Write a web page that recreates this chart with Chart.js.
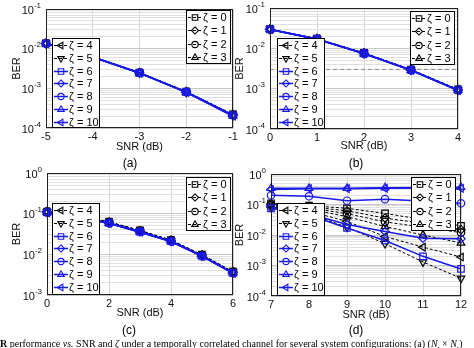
<!DOCTYPE html>
<html><head><meta charset="utf-8">
<script src="https://cdn.jsdelivr.net/npm/chart.js@4.4.1/dist/chart.umd.min.js"></script>
<style>
html,body{margin:0;padding:0;background:#fff}
body{width:474px;height:348px;overflow:hidden;position:relative;font-family:'Liberation Sans',Arial,sans-serif;color:#000}
canvas{position:absolute}
.lab{position:absolute;font-size:12px;transform:translate(-50%,-50%);white-space:nowrap}
#cap{position:absolute;left:0;top:338px;white-space:nowrap;font-family:'Liberation Serif','Times New Roman',serif;font-size:10px;line-height:12px}
</style></head><body>
<canvas id="ca" width="240" height="160" style="left:0;top:0"></canvas>
<canvas id="cb" width="241" height="160" style="left:233px;top:0"></canvas>
<canvas id="cc" width="240" height="160" style="left:0;top:165px"></canvas>
<canvas id="cd" width="241" height="160" style="left:233px;top:165px"></canvas>
<div class="lab" style="left:130px;top:163px">(a)</div>
<div class="lab" style="left:356px;top:163px">(b)</div>
<div class="lab" style="left:129px;top:330px">(c)</div>
<div class="lab" style="left:356px;top:330px">(d)</div>
<div id="cap"><b>R</b> performance <i>vs.</i> SNR and <i>ζ</i> under a temporally correlated channel for several system configurations: (a) (<i>N</i><sub style="font-size:7px">t</sub> × <i>N</i><sub style="font-size:7px">r</sub>)</div>
<script>
// ---------------- data ----------------
const zetas = [0, 1, 2, 3, 4, 5, 6, 7, 8, 9, 10];

const snrA = [-5, -4, -3, -2, -1];
const berA = [
  [1.37e-2, 6.30e-3, 2.50e-3, 8.3e-4, 2.20e-4],
  [1.36e-2, 6.25e-3, 2.48e-3, 8.2e-4, 2.17e-4],
  [1.36e-2, 6.20e-3, 2.47e-3, 8.2e-4, 2.15e-4],
  [1.35e-2, 6.20e-3, 2.46e-3, 8.1e-4, 2.12e-4],
  [1.35e-2, 6.15e-3, 2.45e-3, 8.1e-4, 2.10e-4],
  [1.34e-2, 6.10e-3, 2.44e-3, 8.0e-4, 2.05e-4],
  [1.35e-2, 6.20e-3, 2.45e-3, 8.1e-4, 2.12e-4],
  [1.34e-2, 6.15e-3, 2.44e-3, 8.0e-4, 2.08e-4],
  [1.35e-2, 6.20e-3, 2.46e-3, 8.1e-4, 2.10e-4],
  [1.34e-2, 6.10e-3, 2.43e-3, 7.9e-4, 2.02e-4],
  [1.33e-2, 6.10e-3, 2.42e-3, 7.9e-4, 1.98e-4]
];

const snrB = [0, 1, 2, 3, 4];
const berB = [
  [3.00e-2, 1.74e-2, 7.7e-3, 2.98e-3, 9.6e-4],
  [2.98e-2, 1.73e-2, 7.6e-3, 2.95e-3, 9.5e-4],
  [2.97e-2, 1.72e-2, 7.6e-3, 2.94e-3, 9.4e-4],
  [2.96e-2, 1.71e-2, 7.5e-3, 2.92e-3, 9.4e-4],
  [2.96e-2, 1.71e-2, 7.5e-3, 2.91e-3, 9.3e-4],
  [2.95e-2, 1.70e-2, 7.5e-3, 2.90e-3, 9.3e-4],
  [2.95e-2, 1.70e-2, 7.5e-3, 2.90e-3, 9.3e-4],
  [2.95e-2, 1.70e-2, 7.4e-3, 2.89e-3, 9.2e-4],
  [2.94e-2, 1.69e-2, 7.4e-3, 2.88e-3, 9.2e-4],
  [2.94e-2, 1.69e-2, 7.4e-3, 2.87e-3, 9.1e-4],
  [2.93e-2, 1.68e-2, 7.3e-3, 2.86e-3, 9.0e-4]
];
const refB = [3.0e-3, 3.0e-3, 3.0e-3, 3.0e-3, 3.0e-3];

const snrC = [0, 1, 2, 3, 4, 5, 6];
const berC = [
  [0.113, 0.087, 0.063, 0.039, 0.0225, 9.8e-3, 3.75e-3],
  [0.112, 0.086, 0.062, 0.038, 0.0222, 9.6e-3, 3.70e-3],
  [0.112, 0.086, 0.062, 0.038, 0.0220, 9.6e-3, 3.70e-3],
  [0.111, 0.085, 0.061, 0.037, 0.0218, 9.5e-3, 3.65e-3],
  [0.111, 0.085, 0.061, 0.037, 0.0216, 9.4e-3, 3.60e-3],
  [0.110, 0.084, 0.060, 0.037, 0.0215, 9.3e-3, 3.60e-3],
  [0.108, 0.083, 0.059, 0.036, 0.0210, 9.1e-3, 3.50e-3],
  [0.108, 0.083, 0.059, 0.036, 0.0210, 9.1e-3, 3.50e-3],
  [0.107, 0.082, 0.058, 0.036, 0.0208, 9.0e-3, 3.45e-3],
  [0.107, 0.082, 0.058, 0.035, 0.0206, 9.0e-3, 3.45e-3],
  [0.106, 0.081, 0.058, 0.035, 0.0205, 8.9e-3, 3.40e-3]
];

const snrD = [7, 8, 9, 10, 11, 12];
const berD = [
  [0.110, 0.092, 0.075, 0.051, 0.032, 0.020],
  [0.105, 0.085, 0.062, 0.036, 0.024, 0.015],
  [0.100, 0.078, 0.050, 0.027, 0.018, 0.012],
  [0.095, 0.070, 0.040, 0.019, 0.010, 5.5e-3],
  [0.090, 0.060, 0.028, 8.9e-3, 4.0e-3, 1.9e-3],
  [0.085, 0.050, 0.018, 5.2e-3, 1.3e-3, 3.8e-4],
  [0.075, 0.045, 0.017, 6.6e-3, 2.0e-3, 7.7e-4],
  [0.080, 0.050, 0.022, 0.013, 7.8e-3, 7.5e-3],
  [0.200, 0.186, 0.133, 0.150, 0.130, 0.110],
  [0.340, 0.340, 0.340, 0.355, 0.360, 0.370],
  [0.310, 0.330, 0.330, 0.340, 0.350, 0.340]
];

// y tick exponents (labelled decades) and their exponent labels
const yExpA = [-4, -3, -2, -1], yLabA = ['-4', '-3', '-2', '-1'];
const yExpB = [-4, -3, -2, -1], yLabB = ['-4', '-3', '-2', '-1'];
const yExpC = [-3, -2, -1, 0],  yLabC = ['-3', '-2', '-1', '0'];
const yExpD = [-4, -3, -2, -1, 0], yLabD = ['-4', '-3', '-2', '-1', '0'];

// ---------------- styling ----------------
const FONT = "'Liberation Sans', Arial, sans-serif";
const BLUE = 'rgb(25,25,235)';
const mk = [
  {ps: 'rect', rot: 0}, {ps: 'rectRot', rot: 0}, {ps: 'circle', rot: 0}, {ps: 'triangle', rot: 0},
  {ps: 'triangle', rot: -90}, {ps: 'triangle', rot: 180}, {ps: 'rect', rot: 0}, {ps: 'rectRot', rot: 0},
  {ps: 'circle', rot: 0}, {ps: 'triangle', rot: 0}, {ps: 'triangle', rot: -90}
];
function radFor(ps) { return ps === 'rect' ? 4.6 : ps === 'circle' ? 3.7 : ps === 'rectRot' ? 4.2 : 4.4; }

function makeDatasets(xs, bers) {
  return bers.map((vals, i) => {
    const black = zetas[i] <= 5;
    return {
      label: 'ζ = ' + zetas[i],
      data: vals.map((v, k) => ({x: xs[k], y: v})),
      borderColor: black ? '#000' : BLUE,
      borderWidth: black ? 1 : 1.5,
      borderDash: black ? [3, 2] : [],
      pointStyle: mk[i].ps,
      rotation: mk[i].rot,
      pointRotation: mk[i].rot,
      pointRadius: radFor(mk[i].ps),
      pointBorderWidth: 1.2,
      pointBorderColor: black ? '#000' : BLUE,
      pointBackgroundColor: 'rgba(0,0,0,0)',
      order: 20 - i,
      tension: 0,
      clip: false,
      fill: false
    };
  });
}

function drawMarker(ctx, ps, rot, r, x, y) {
  ctx.beginPath();
  if (ps === 'circle') ctx.arc(x, y, r, 0, Math.PI * 2);
  else if (ps === 'rect') { const s = r * Math.SQRT1_2; ctx.rect(x - s, y - s, 2 * s, 2 * s); }
  else if (ps === 'rectRot') { ctx.moveTo(x, y - r); ctx.lineTo(x + r, y); ctx.lineTo(x, y + r); ctx.lineTo(x - r, y); ctx.closePath(); }
  else {
    let a = rot * Math.PI / 180;
    for (let k = 0; k < 3; k++) {
      const px = x + Math.sin(a) * r, py = y - Math.cos(a) * r;
      if (k) ctx.lineTo(px, py); else ctx.moveTo(px, py);
      a += 2 * Math.PI / 3;
    }
    ctx.closePath();
  }
  ctx.stroke();
}

function legendBox(ctx, chart, idxs, x, y, w, h, rowH) {
  ctx.save();
  ctx.fillStyle = '#fff';
  ctx.fillRect(x, y, w, h);
  ctx.strokeStyle = '#000'; ctx.lineWidth = 1; ctx.setLineDash([]);
  ctx.strokeRect(x + 0.5, y + 0.5, w - 1, h - 1);
  idxs.forEach((di, k) => {
    const ds = chart.data.datasets[di];
    const cy = Math.round(y + 7 + k * rowH) + 0.5;
    ctx.strokeStyle = ds.borderColor;
    ctx.lineWidth = ds.borderWidth;
    ctx.setLineDash(ds.borderDash);
    ctx.beginPath(); ctx.moveTo(x + 2, cy); ctx.lineTo(x + 16, cy); ctx.stroke();
    ctx.setLineDash([]);
    ctx.lineWidth = 1.1;
    drawMarker(ctx, ds.pointStyle, ds.pointRotation, ds.pointRadius * 0.85, x + 9, cy);
    ctx.fillStyle = '#000';
    ctx.font = '11px ' + FONT;
    ctx.textBaseline = 'middle';
    ctx.textAlign = 'left';
    ctx.fillText(ds.label, x + 17, cy);
  });
  ctx.restore();
}

function makePlugin(cfg) {
  return {
    id: 'panelDecor',
    afterDatasetsDraw(chart) {
      const ctx = chart.ctx, a = chart.chartArea;
      ctx.save();
      ctx.strokeStyle = '#222'; ctx.lineWidth = 1; ctx.setLineDash([]);
      ctx.strokeRect(Math.round(a.left) + 0.5, Math.round(a.top) + 0.5,
        Math.round(a.right - a.left) - 1, Math.round(a.bottom - a.top) - 1);
      ctx.restore();
      const L = cfg.leg;
      legendBox(ctx, chart, [0, 1, 2, 3], a.right - L.rdx - 45, a.top + L.rdy, 45, 54, 13.3);
      const ly = a.top + L.ldy;
      legendBox(ctx, chart, [4, 5, 6, 7, 8, 9, 10], a.left + L.ldx, ly, 48, a.bottom - ly, 12.8);
    },
    afterDraw(chart) {
      const ctx = chart.ctx, a = chart.chartArea, ys = chart.scales.y;
      ctx.save();
      ctx.fillStyle = '#111';
      ctx.textAlign = 'left';
      ctx.textBaseline = 'alphabetic';
      cfg.yExp.forEach((e, i) => {
        const py = ys.getPixelForValue(Math.pow(10, e));
        const right = a.left - 5;
        ctx.font = '8px ' + FONT;
        const t2 = cfg.yLab[i];
        const w2 = ctx.measureText(t2).width;
        ctx.fillText(t2, right - w2, py - 1.5);
        ctx.font = '11px ' + FONT;
        const w1 = ctx.measureText('10').width;
        ctx.fillText('10', right - w2 - w1, py + 4.5);
      });
      ctx.restore();
    }
  };
}

function buildChart(id, xs, bers, cfg, extra) {
  const datasets = makeDatasets(xs, bers);
  if (extra) datasets.push(extra);
  const yMinE = cfg.yExp[0], yMaxE = cfg.yExp[cfg.yExp.length - 1];
  new Chart(document.getElementById(id), {
    type: 'line',
    data: {datasets},
    options: {
      responsive: false,
      animation: false,
      events: [],
      layout: {padding: {left: 0, top: cfg.padT, right: cfg.padR, bottom: 0}},
      plugins: {legend: {display: false}, tooltip: {enabled: false}},
      scales: {
        x: {
          type: 'linear', min: xs[0], max: xs[xs.length - 1],
          ticks: {stepSize: cfg.xStep, color: '#111', font: {size: 11, family: FONT}, padding: 2, autoSkip: false, maxRotation: 0},
          grid: {color: '#d4d4d4', drawTicks: false},
          border: {display: false},
          title: {display: true, text: 'SNR (dB)', color: '#111', font: {size: 11, family: FONT}, padding: {top: 0, bottom: cfg.xtpb}},
          afterFit: s => { s.height = cfg.xh; }
        },
        y: {
          type: 'logarithmic', min: Math.pow(10, yMinE), max: Math.pow(10, yMaxE),
          ticks: {display: false},
          grid: {
            drawTicks: false,
            color: c => {
              if (!c.tick) return '#e0e0e0';
              const l = Math.log10(c.tick.value);
              return Math.abs(l - Math.round(l)) < 1e-6 ? '#c6c6c6' : '#e0e0e0';
            }
          },
          border: {display: false},
          title: {display: true, text: 'BER', color: '#111', font: {size: 11, family: FONT}, padding: {top: cfg.ytpt, bottom: 0}},
          afterBuildTicks: s => {
            const t = [];
            for (let e = yMinE; e < yMaxE; e++) for (let m = 1; m <= 9; m++) t.push({value: m * Math.pow(10, e)});
            t.push({value: Math.pow(10, yMaxE)});
            s.ticks = t;
          },
          afterFit: s => { s.width = cfg.yw; }
        }
      }
    },
    plugins: [makePlugin(cfg)]
  });
}

buildChart('ca', snrA, berA, {padT: 9, padR: 7, yw: 46, xh: 32, xtpb: 6.4, ytpt: 10.4, xStep: 1,
  yExp: yExpA, yLab: yLabA, leg: {rdx: 2, rdy: 1, ldx: 6, ldy: 29}});

buildChart('cb', snrB, berB, {padT: 8, padR: 16, yw: 37, xh: 31, xtpb: 7.4, ytpt: 0.4, xStep: 1,
  yExp: yExpB, yLab: yLabB, leg: {rdx: 3, rdy: 3, ldx: 7, ldy: 30}},
  {label: 'ref', data: refB.map((v, k) => ({x: snrB[k], y: v})), borderColor: '#8a8a8a', borderWidth: 1,
   borderDash: [4, 3], pointRadius: 0, order: 40, clip: false});

buildChart('cc', snrC, berC, {padT: 8, padR: 7, yw: 47, xh: 30, xtpb: 5.4, ytpt: 10.4, xStep: 2,
  yExp: yExpC, yLab: yLabC, leg: {rdx: 2, rdy: 4, ldx: 5, ldy: 30}});

buildChart('cd', snrD, berD, {padT: 9, padR: 13, yw: 38, xh: 29, xtpb: 3.6, ytpt: 0.4, xStep: 1,
  yExp: yExpD, yLab: yLabD, leg: {rdx: 5, rdy: 3, ldx: 6, ldy: 29}});
</script>
</body></html>
